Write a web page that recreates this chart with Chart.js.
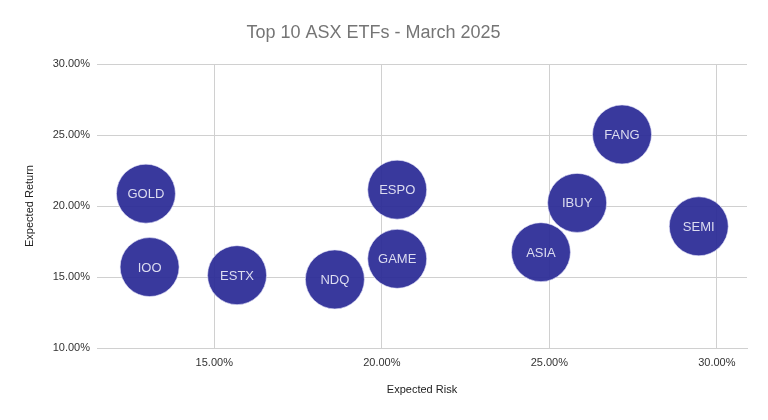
<!DOCTYPE html>
<html>
<head>
<meta charset="utf-8">
<script src="https://cdn.jsdelivr.net/npm/chart.js@4"></script>
<style>
  html, body { margin: 0; padding: 0; background: #fff; }
  #wrap { width: 768px; height: 420px; }
</style>
</head>
<body>
<div id="wrap"><canvas id="c" width="768" height="420"></canvas></div>
<script>
const tickers = ["GOLD", "IOO", "ESTX", "NDQ", "ESPO", "GAME", "ASIA", "IBUY", "FANG", "SEMI"];
const expectedRisk = [12.96, 13.07, 15.68, 18.60, 20.46, 20.46, 24.75, 25.83, 27.17, 29.46];
const expectedReturn = [20.87, 15.70, 15.13, 14.83, 21.15, 16.28, 16.75, 20.22, 25.04, 18.57];
const xTicks = [15, 20, 25, 30];
const yTicks = [10, 15, 20, 25, 30];

const points = tickers.map((t, i) => ({ x: expectedRisk[i], y: expectedReturn[i], label: t }));

const labelPlugin = {
  id: 'bubbleLabels',
  afterDatasetsDraw(chart) {
    const ctx = chart.ctx;
    const meta = chart.getDatasetMeta(0);
    ctx.save();
    ctx.font = '13px "Liberation Sans", Arial, sans-serif';
    ctx.fillStyle = '#dcdcf0';
    ctx.textAlign = 'center';
    ctx.textBaseline = 'middle';
    meta.data.forEach((el, i) => {
      ctx.fillText(points[i].label, el.x, el.y + 1);
    });
    ctx.restore();
  }
};

new Chart(document.getElementById('c'), {
  type: 'bubble',
  data: {
    datasets: [{
      data: points,
      radius: 29.5,
      hoverRadius: 29.5,
      backgroundColor: 'rgba(42,42,150,0.93)',
      borderColor: 'rgba(230,230,250,0.6)',
      borderWidth: 1,
      clip: false
    }]
  },
  options: {
    responsive: false,
    animation: false,
    devicePixelRatio: 1,
    layout: { autoPadding: false, padding: { left: 0, right: 21, top: 0, bottom: 0 } },
    plugins: {
      legend: { display: false },
      tooltip: { enabled: false },
      title: {
        display: true,
        text: 'Top 10 ASX ETFs - March 2025',
        color: '#757575',
        font: { family: '"Liberation Sans", Arial, sans-serif', size: 18, weight: 'normal', lineHeight: 1.2 },
        padding: { top: 22, bottom: 20.4 }
      }
    },
    scales: {
      x: {
        type: 'linear',
        min: 11.5,
        max: 30.9,
        afterBuildTicks(scale) { scale.ticks = xTicks.map(v => ({ value: v })); },
        afterFit(scale) { scale.height = 72; scale.paddingLeft = 0; scale.paddingRight = 0; },
        grid: { color: '#d0d0d0', drawTicks: false },
        border: { display: true, color: '#d0d0d0' },
        ticks: {
          padding: 8,
          color: '#333',
          font: { family: '"Liberation Sans", Arial, sans-serif', size: 11 },
          callback: v => v.toFixed(2) + '%'
        },
        title: {
          display: true,
          text: 'Expected Risk',
          color: '#222',
          font: { family: '"Liberation Sans", Arial, sans-serif', size: 11, lineHeight: 1.2 },
          padding: { top: 0, bottom: 23.4 }
        }
      },
      y: {
        type: 'linear',
        min: 10,
        max: 30,
        afterBuildTicks(scale) { scale.ticks = yTicks.map(v => ({ value: v })); },
        afterFit(scale) { scale.width = 97; scale.paddingTop = 0; scale.paddingBottom = 0; },
        grid: { color: '#d0d0d0', drawTicks: false },
        border: { display: false },
        ticks: {
          padding: 7,
          color: '#333',
          font: { family: '"Liberation Sans", Arial, sans-serif', size: 11 },
          callback: v => v.toFixed(2) + '%'
        },
        title: {
          display: true,
          text: 'Expected Return',
          color: '#222',
          font: { family: '"Liberation Sans", Arial, sans-serif', size: 11, lineHeight: 1.2 },
          padding: { top: 23.4, bottom: 0 }
        }
      }
    }
  },
  plugins: [labelPlugin]
});
</script>
</body>
</html>
